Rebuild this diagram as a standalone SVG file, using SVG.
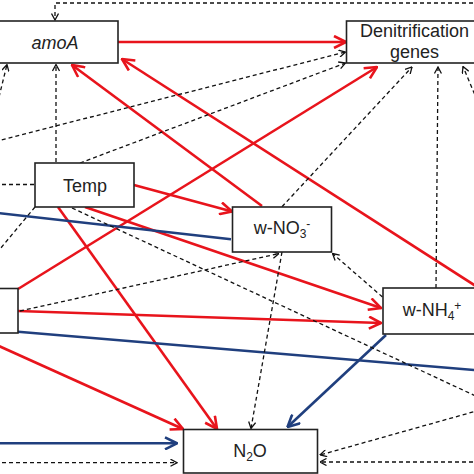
<svg xmlns="http://www.w3.org/2000/svg" width="474" height="474" viewBox="0 0 474 474">
<style>
.box{fill:#fff;stroke:#222;stroke-width:1.6}
.t{font-family:"Liberation Sans",Arial,sans-serif;font-size:18px;fill:#222;text-anchor:middle}
.r{stroke:#e8141c;stroke-width:2.6;fill:none;marker-end:url(#ar)}
.rn{stroke:#e8141c;stroke-width:2.6;fill:none}
.b{stroke:#203f7e;stroke-width:2.6;fill:none;marker-end:url(#ab)}
.bn{stroke:#203f7e;stroke-width:2.6;fill:none}
.d{stroke:#111;stroke-width:1.3;stroke-dasharray:4 3;fill:none;marker-end:url(#ad)}
.dn{stroke:#111;stroke-width:1.3;stroke-dasharray:4 3;fill:none}
</style>
<defs>
<marker id="ar" viewBox="0 0 14 14" refX="13" refY="7" markerWidth="14" markerHeight="14" markerUnits="userSpaceOnUse" orient="auto"><path d="M1,1 L13,7 L1,13" fill="none" stroke="#e8141c" stroke-width="2.6"/></marker>
<marker id="ab" viewBox="0 0 14 14" refX="13" refY="7" markerWidth="14" markerHeight="14" markerUnits="userSpaceOnUse" orient="auto"><path d="M1,1 L13,7 L1,13" fill="none" stroke="#203f7e" stroke-width="2.6"/></marker>
<marker id="ad" viewBox="0 0 8 8" refX="7.5" refY="4" markerWidth="8" markerHeight="8" markerUnits="userSpaceOnUse" orient="auto"><path d="M1,0.5 L7.5,4 L1,7.5" fill="none" stroke="#111" stroke-width="1.3"/></marker>
</defs>
<g id="connectors">
<line class="r" x1="118" y1="42" x2="346" y2="42"/>
<line class="r" x1="262" y1="206" x2="72" y2="65"/>
<line class="r" x1="482" y1="290" x2="122" y2="59"/>
<line class="r" x1="18" y1="289" x2="377" y2="67"/>
<line class="r" x1="134" y1="185" x2="232" y2="211.5"/>
<line class="r" x1="58" y1="207" x2="217" y2="429"/>
<line class="r" x1="85" y1="207" x2="381" y2="308"/>
<line class="r" x1="18" y1="311" x2="381" y2="323"/>
<line class="r" x1="-10" y1="342" x2="183" y2="429"/>
<line class="bn" x1="-5" y1="212.7" x2="231" y2="239.3"/>
<line class="bn" x1="18" y1="331.7" x2="480" y2="370.5"/>
<line class="b" x1="386" y1="335" x2="287.5" y2="427"/>
<line class="b" x1="-5" y1="443.3" x2="177" y2="443.3"/>
<path class="d" d="M480,3 H55 V20"/>
<line class="d" x1="56" y1="162" x2="56" y2="64.5"/>
<line class="d" x1="-1" y1="97" x2="7" y2="64.5"/>
<line class="d" x1="-5" y1="141.5" x2="345.5" y2="52"/>
<line class="d" x1="80" y1="163" x2="345.5" y2="63"/>
<line class="dn" x1="-5" y1="184.5" x2="35" y2="184.5"/>
<line class="dn" x1="35" y1="207" x2="-5" y2="255"/>
<line class="dn" x1="72" y1="208" x2="480" y2="398"/>
<line class="d" x1="282" y1="206.7" x2="412" y2="67"/>
<line class="d" x1="436" y1="288" x2="438" y2="67"/>
<line class="d" x1="480" y1="107" x2="463" y2="66.5"/>
<line class="d" x1="20" y1="311" x2="279" y2="253.5"/>
<line class="d" x1="282" y1="252" x2="251" y2="428.5"/>
<line class="d" x1="382.5" y1="297" x2="332.5" y2="253.5"/>
<line class="d" x1="480" y1="410" x2="320" y2="455"/>
<line class="d" x1="480" y1="462" x2="320" y2="462"/>
<line class="d" x1="-5" y1="462.7" x2="177" y2="462.7"/>
</g>
<g id="amoA"><rect class="box" x="-5" y="21" width="123" height="42"/><text class="t" x="55" y="49" font-style="italic">amoA</text></g>
<g id="denit"><rect class="box" x="346.5" y="21" width="135" height="42"/><text class="t" x="414.5" y="37">Denitrification</text><text class="t" x="414.5" y="58">genes</text></g>
<g id="temp"><rect class="box" x="35" y="163" width="99" height="44"/><text class="t" x="85" y="192">Temp</text></g>
<g id="wno3"><rect class="box" x="232.5" y="207" width="99" height="45"/><text class="t" x="282" y="234">w-NO<tspan font-size="12" dy="4">3</tspan><tspan font-size="12" dy="-10">-</tspan></text></g>
<g id="wnh4"><rect class="box" x="383" y="288" width="100" height="46"/><text class="t" x="432" y="316">w-NH<tspan font-size="12" dy="4">4</tspan><tspan font-size="12" dy="-10">+</tspan></text></g>
<g id="leftnode"><rect class="box" x="-10" y="288.5" width="28" height="44.5"/></g>
<g id="n2o"><rect class="box" x="183.5" y="429.5" width="134" height="43.5"/><text class="t" x="250" y="457">N<tspan font-size="12" dy="4">2</tspan><tspan dy="-4">O</tspan></text></g>
</svg>
